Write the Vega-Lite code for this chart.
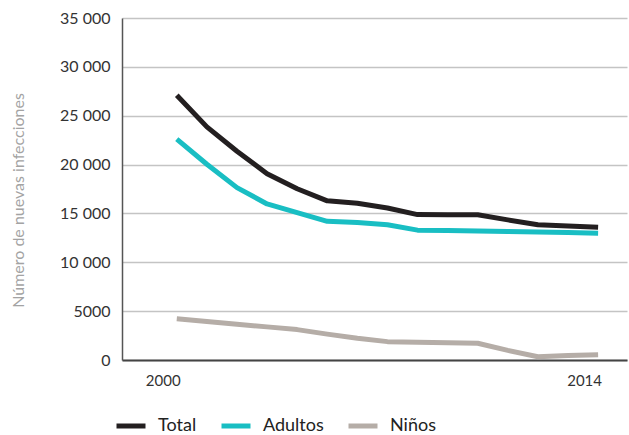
{
  "$schema": "https://vega.github.io/schema/vega-lite/v6.json",
  "width": 505,
  "height": 342,
  "autosize": {"type": "none"},
  "padding": {"left": 122, "top": 18, "right": 2, "bottom": 75},
  "background": "white",
  "config": {
    "font": "Lato",
    "view": {"stroke": null}
  },
  "data": {
    "values": [
      {"year": 2000, "serie": "Total", "value": 27100},
      {"year": 2001, "serie": "Total", "value": 23860},
      {"year": 2002, "serie": "Total", "value": 21360},
      {"year": 2003, "serie": "Total", "value": 19070},
      {"year": 2004, "serie": "Total", "value": 17530},
      {"year": 2005, "serie": "Total", "value": 16290},
      {"year": 2006, "serie": "Total", "value": 16040},
      {"year": 2007, "serie": "Total", "value": 15550},
      {"year": 2008, "serie": "Total", "value": 14880},
      {"year": 2009, "serie": "Total", "value": 14860},
      {"year": 2010, "serie": "Total", "value": 14860},
      {"year": 2011, "serie": "Total", "value": 14340},
      {"year": 2012, "serie": "Total", "value": 13850},
      {"year": 2013, "serie": "Total", "value": 13720},
      {"year": 2014, "serie": "Total", "value": 13590},
      {"year": 2000, "serie": "Adultos", "value": 22600},
      {"year": 2001, "serie": "Adultos", "value": 20030},
      {"year": 2002, "serie": "Adultos", "value": 17640},
      {"year": 2003, "serie": "Adultos", "value": 15970},
      {"year": 2004, "serie": "Adultos", "value": 15080},
      {"year": 2005, "serie": "Adultos", "value": 14190},
      {"year": 2006, "serie": "Adultos", "value": 14060},
      {"year": 2007, "serie": "Adultos", "value": 13850},
      {"year": 2008, "serie": "Adultos", "value": 13290},
      {"year": 2009, "serie": "Adultos", "value": 13250},
      {"year": 2010, "serie": "Adultos", "value": 13200},
      {"year": 2011, "serie": "Adultos", "value": 13150},
      {"year": 2012, "serie": "Adultos", "value": 13100},
      {"year": 2013, "serie": "Adultos", "value": 13040},
      {"year": 2014, "serie": "Adultos", "value": 12980},
      {"year": 2000, "serie": "Niños", "value": 4210},
      {"year": 2001, "serie": "Niños", "value": 3940},
      {"year": 2002, "serie": "Niños", "value": 3660},
      {"year": 2003, "serie": "Niños", "value": 3390},
      {"year": 2004, "serie": "Niños", "value": 3110},
      {"year": 2005, "serie": "Niños", "value": 2650},
      {"year": 2006, "serie": "Niños", "value": 2230},
      {"year": 2007, "serie": "Niños", "value": 1880},
      {"year": 2008, "serie": "Niños", "value": 1820},
      {"year": 2009, "serie": "Niños", "value": 1770},
      {"year": 2010, "serie": "Niños", "value": 1710},
      {"year": 2011, "serie": "Niños", "value": 980},
      {"year": 2012, "serie": "Niños", "value": 340},
      {"year": 2013, "serie": "Niños", "value": 450},
      {"year": 2014, "serie": "Niños", "value": 530}
    ]
  },
  "mark": {"type": "line", "strokeWidth": 5, "strokeCap": "butt", "strokeJoin": "round"},
  "encoding": {
    "x": {
      "field": "year",
      "type": "quantitative",
      "scale": {"domain": [1998.18, 2014.96], "nice": false, "zero": false},
      "axis": {
        "title": null,
        "values": [2000, 2014],
        "format": "d",
        "grid": false,
        "ticks": false,
        "domain": true,
        "domainColor": "#444444",
        "domainWidth": 2,
        "labelPadding": 13,
        "labelFontSize": 15,
        "labelColor": "#333333",
        "labelOffset": -14
      }
    },
    "y": {
      "field": "value",
      "type": "quantitative",
      "scale": {"domain": [0, 35000], "nice": false},
      "axis": {
        "title": "Número de nuevas infecciones",
        "titleColor": "#a3a3a3",
        "titleFontSize": 16,
        "titleFontWeight": "normal",
        "titleAngle": -90,
        "titleX": -104,
        "titleY": 182,
        "titleAlign": "center",
        "titleBaseline": "middle",
        "values": [0, 5000, 10000, 15000, 20000, 25000, 30000, 35000],
        "labelExpr": "datum.value >= 10000 ? replace(format(datum.value, ','), ',', ' ') : format(datum.value, 'd')",
        "grid": true,
        "gridColor": "#c4c4c4",
        "gridWidth": 1.5,
        "ticks": false,
        "domain": true,
        "domainColor": "#555555",
        "domainWidth": 1.5,
        "labelPadding": 12,
        "labelFontSize": 16,
        "labelColor": "#333333"
      }
    },
    "color": {
      "field": "serie",
      "type": "nominal",
      "scale": {"domain": ["Total", "Adultos", "Niños"], "range": ["#231f20", "#19bec3", "#b5ada7"]},
      "legend": {
        "title": null,
        "orient": "none",
        "legendX": -8,
        "legendY": 391,
        "direction": "horizontal",
        "symbolType": "stroke",
        "symbolSize": 841,
        "symbolStrokeWidth": 5,
        "labelFontSize": 18,
        "labelColor": "#222222",
        "labelOffset": 10,
        "columnPadding": 14
      }
    }
  }
}
